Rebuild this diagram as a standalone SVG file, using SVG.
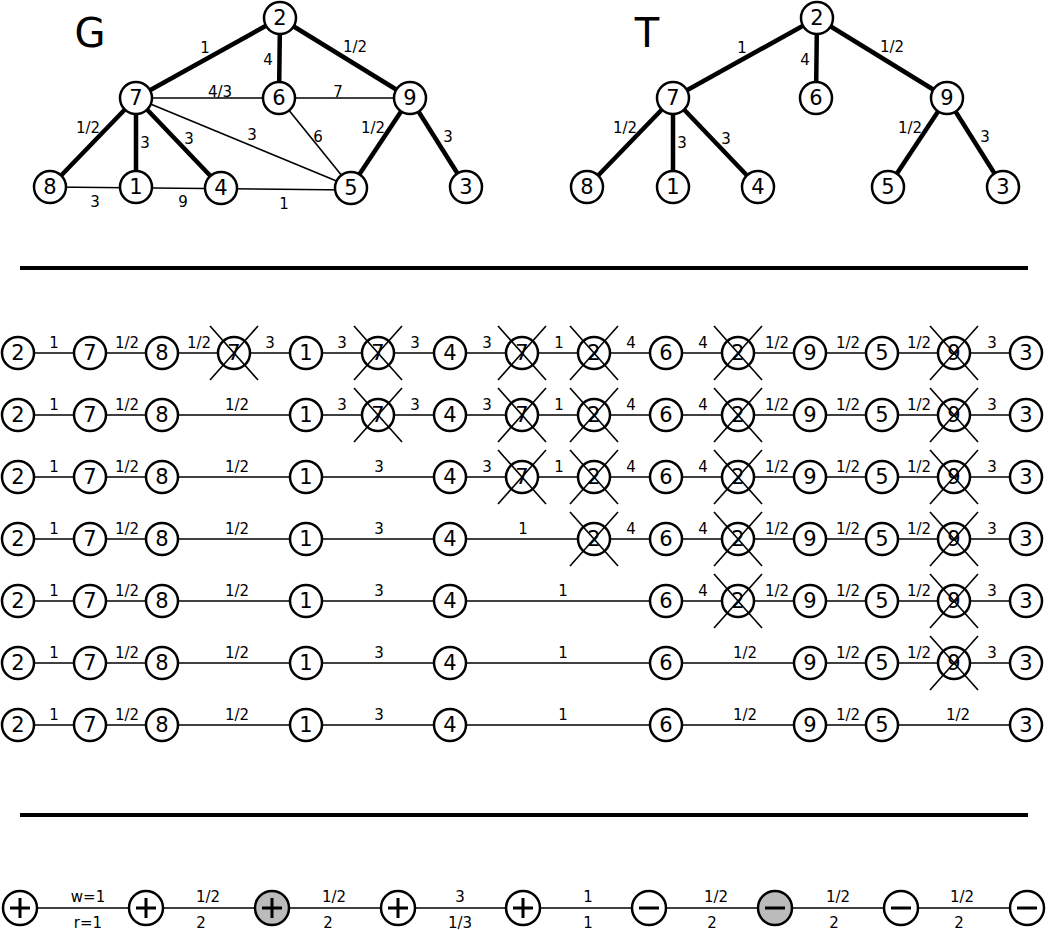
<svg xmlns="http://www.w3.org/2000/svg" width="1050" height="930" viewBox="0 0 1050 930">
<style>
text{font-family:"DejaVu Sans",sans-serif;fill:#000;text-anchor:middle}
.n circle{fill:#fff;stroke:#000;stroke-width:2.5}
.n text{font-size:21px;dominant-baseline:central}
.l{font-size:15px}
.thick{stroke:#000;stroke-width:4.5;fill:none}
.thin{stroke:#000;stroke-width:1.6;fill:none}
.x{stroke:#000;stroke-width:1.6}
.rule{stroke:#000;stroke-width:4}
.g circle{fill:#bbb}
.s{stroke:#000;stroke-width:3}
</style>
<defs>
<g id="X"><line class="x" x1="-24" y1="-27" x2="24" y2="27"/><line class="x" x1="24" y1="-27" x2="-24" y2="27"/></g>
<path id="plus" class="s" d="M-10 0H10M0-10V10"/>
<path id="minus" class="s" d="M-10 0H10"/>
</defs>
<text x="90" y="33" style="font-size:40px;dominant-baseline:central">G</text>
<text x="647" y="33" style="font-size:40px;dominant-baseline:central">T</text>
<g id="connectors-G">
<line class="thick" x1="280" y1="18" x2="136" y2="98"/>
<line class="thick" x1="280" y1="18" x2="279" y2="98"/>
<line class="thick" x1="280" y1="18" x2="410" y2="98"/>
<line class="thin" x1="136" y1="98" x2="410" y2="98"/>
<line class="thin" x1="136" y1="98" x2="351" y2="187"/>
<line class="thin" x1="279" y1="98" x2="351" y2="187"/>
<line class="thick" x1="136" y1="98" x2="50" y2="187"/>
<line class="thick" x1="136" y1="98" x2="136" y2="187"/>
<line class="thick" x1="136" y1="98" x2="221" y2="187"/>
<line class="thick" x1="410" y1="98" x2="351" y2="187"/>
<line class="thick" x1="410" y1="98" x2="466" y2="187"/>
<line class="thin" x1="50" y1="187" x2="351" y2="190"/>
</g>
<g class="l">
<text x="205" y="53">1</text><text x="268" y="65">4</text><text x="355" y="52">1/2</text>
<text x="220" y="97">4/3</text><text x="338" y="97">7</text><text x="88" y="133">1/2</text>
<text x="145" y="148">3</text><text x="189" y="144">3</text><text x="252" y="140">3</text>
<text x="318" y="142">6</text><text x="373" y="133">1/2</text><text x="448" y="142">3</text>
<text x="95" y="207">3</text><text x="183" y="207">9</text><text x="284" y="209">1</text>
</g>
<g id="G2" class="n"><circle cx="280" cy="18" r="16"/><text x="280" y="18">2</text></g>
<g id="G7" class="n"><circle cx="136" cy="98" r="16"/><text x="136" y="98">7</text></g>
<g id="G6" class="n"><circle cx="279" cy="98" r="16"/><text x="279" y="98">6</text></g>
<g id="G9" class="n"><circle cx="410" cy="98" r="16"/><text x="410" y="98">9</text></g>
<g id="G8" class="n"><circle cx="50" cy="187" r="16"/><text x="50" y="187">8</text></g>
<g id="G1" class="n"><circle cx="136" cy="187" r="16"/><text x="136" y="187">1</text></g>
<g id="G4" class="n"><circle cx="221" cy="188" r="16"/><text x="221" y="188">4</text></g>
<g id="G5" class="n"><circle cx="351" cy="188" r="16"/><text x="351" y="188">5</text></g>
<g id="G3" class="n"><circle cx="466" cy="187" r="16"/><text x="466" y="187">3</text></g>
<g transform="translate(537,0)">
<g id="connectors-T">
<line class="thick" x1="280" y1="18" x2="136" y2="98"/>
<line class="thick" x1="280" y1="18" x2="279" y2="98"/>
<line class="thick" x1="280" y1="18" x2="410" y2="98"/>
<line class="thick" x1="136" y1="98" x2="50" y2="187"/>
<line class="thick" x1="136" y1="98" x2="136" y2="187"/>
<line class="thick" x1="136" y1="98" x2="221" y2="187"/>
<line class="thick" x1="410" y1="98" x2="351" y2="187"/>
<line class="thick" x1="410" y1="98" x2="466" y2="187"/>
</g>
<g class="l">
<text x="205" y="53">1</text><text x="268" y="65">4</text><text x="355" y="52">1/2</text>
<text x="88" y="133">1/2</text><text x="145" y="148">3</text><text x="189" y="144">3</text>
<text x="373" y="133">1/2</text><text x="448" y="142">3</text>
</g>
<g id="T2" class="n"><circle cx="280" cy="18" r="16"/><text x="280" y="18">2</text></g>
<g id="T7" class="n"><circle cx="136" cy="98" r="16"/><text x="136" y="98">7</text></g>
<g id="T6" class="n"><circle cx="279" cy="98" r="16"/><text x="279" y="98">6</text></g>
<g id="T9" class="n"><circle cx="410" cy="98" r="16"/><text x="410" y="98">9</text></g>
<g id="T8" class="n"><circle cx="50" cy="187" r="16"/><text x="50" y="187">8</text></g>
<g id="T1" class="n"><circle cx="136" cy="187" r="16"/><text x="136" y="187">1</text></g>
<g id="T4" class="n"><circle cx="221" cy="187" r="16"/><text x="221" y="187">4</text></g>
<g id="T5" class="n"><circle cx="351" cy="187" r="16"/><text x="351" y="187">5</text></g>
<g id="T3" class="n"><circle cx="466" cy="187" r="16"/><text x="466" y="187">3</text></g>
</g>
<line class="rule" x1="20" y1="268" x2="1028" y2="268"/>
<line class="rule" x1="20" y1="815" x2="1028" y2="815"/>
<!-- rows -->
<g id="connectors-rows">
<line class="thin" x1="18" y1="353" x2="1026" y2="353"/>
<line class="thin" x1="18" y1="415" x2="1026" y2="415"/>
<line class="thin" x1="18" y1="477" x2="1026" y2="477"/>
<line class="thin" x1="18" y1="539" x2="1026" y2="539"/>
<line class="thin" x1="18" y1="601" x2="1026" y2="601"/>
<line class="thin" x1="18" y1="663" x2="1026" y2="663"/>
<line class="thin" x1="18" y1="725" x2="1026" y2="725"/>
</g>
<g class="l">
<!-- row1 -->
<text x="54" y="348">1</text><text x="127" y="348">1/2</text><text x="199" y="348">1/2</text><text x="270" y="348">3</text><text x="342" y="348">3</text><text x="415" y="348">3</text><text x="487" y="348">3</text><text x="559" y="348">1</text><text x="631" y="348">4</text><text x="703" y="348">4</text><text x="777" y="348">1/2</text><text x="848" y="348">1/2</text><text x="919" y="348">1/2</text><text x="992" y="348">3</text>
<!-- row2 -->
<text x="54" y="410">1</text><text x="127" y="410">1/2</text><text x="237" y="410">1/2</text><text x="342" y="410">3</text><text x="415" y="410">3</text><text x="487" y="410">3</text><text x="559" y="410">1</text><text x="631" y="410">4</text><text x="703" y="410">4</text><text x="777" y="410">1/2</text><text x="848" y="410">1/2</text><text x="919" y="410">1/2</text><text x="992" y="410">3</text>
<!-- row3 -->
<text x="54" y="472">1</text><text x="127" y="472">1/2</text><text x="237" y="472">1/2</text><text x="379" y="472">3</text><text x="487" y="472">3</text><text x="559" y="472">1</text><text x="631" y="472">4</text><text x="703" y="472">4</text><text x="777" y="472">1/2</text><text x="848" y="472">1/2</text><text x="919" y="472">1/2</text><text x="992" y="472">3</text>
<!-- row4 -->
<text x="54" y="534">1</text><text x="127" y="534">1/2</text><text x="237" y="534">1/2</text><text x="379" y="534">3</text><text x="523" y="534">1</text><text x="631" y="534">4</text><text x="703" y="534">4</text><text x="777" y="534">1/2</text><text x="848" y="534">1/2</text><text x="919" y="534">1/2</text><text x="992" y="534">3</text>
<!-- row5 -->
<text x="54" y="596">1</text><text x="127" y="596">1/2</text><text x="237" y="596">1/2</text><text x="379" y="596">3</text><text x="563" y="596">1</text><text x="703" y="596">4</text><text x="777" y="596">1/2</text><text x="848" y="596">1/2</text><text x="919" y="596">1/2</text><text x="992" y="596">3</text>
<!-- row6 -->
<text x="54" y="658">1</text><text x="127" y="658">1/2</text><text x="237" y="658">1/2</text><text x="379" y="658">3</text><text x="563" y="658">1</text><text x="745" y="658">1/2</text><text x="848" y="658">1/2</text><text x="919" y="658">1/2</text><text x="992" y="658">3</text>
<!-- row7 -->
<text x="54" y="720">1</text><text x="127" y="720">1/2</text><text x="237" y="720">1/2</text><text x="379" y="720">3</text><text x="563" y="720">1</text><text x="745" y="720">1/2</text><text x="848" y="720">1/2</text><text x="958" y="720">1/2</text>
</g>
<!-- row nodes -->
<g id="row1" class="n">
<circle cx="18" cy="353" r="16"/><text x="18" y="353">2</text>
<circle cx="90" cy="353" r="16"/><text x="90" y="353">7</text>
<circle cx="162" cy="353" r="16"/><text x="162" y="353">8</text>
<circle cx="234" cy="353" r="16"/><text x="234" y="353">7</text><use href="#X" x="234" y="353"/>
<circle cx="306" cy="353" r="16"/><text x="306" y="353">1</text>
<circle cx="378" cy="353" r="16"/><text x="378" y="353">7</text><use href="#X" x="378" y="353"/>
<circle cx="450" cy="353" r="16"/><text x="450" y="353">4</text>
<circle cx="522" cy="353" r="16"/><text x="522" y="353">7</text><use href="#X" x="522" y="353"/>
<circle cx="594" cy="353" r="16"/><text x="594" y="353">2</text><use href="#X" x="594" y="353"/>
<circle cx="666" cy="353" r="16"/><text x="666" y="353">6</text>
<circle cx="738" cy="353" r="16"/><text x="738" y="353">2</text><use href="#X" x="738" y="353"/>
<circle cx="810" cy="353" r="16"/><text x="810" y="353">9</text>
<circle cx="882" cy="353" r="16"/><text x="882" y="353">5</text>
<circle cx="954" cy="353" r="16"/><text x="954" y="353">9</text><use href="#X" x="954" y="353"/>
<circle cx="1026" cy="353" r="16"/><text x="1026" y="353">3</text>
</g>
<g id="row2" class="n">
<circle cx="18" cy="415" r="16"/><text x="18" y="415">2</text>
<circle cx="90" cy="415" r="16"/><text x="90" y="415">7</text>
<circle cx="162" cy="415" r="16"/><text x="162" y="415">8</text>
<circle cx="306" cy="415" r="16"/><text x="306" y="415">1</text>
<circle cx="378" cy="415" r="16"/><text x="378" y="415">7</text><use href="#X" x="378" y="415"/>
<circle cx="450" cy="415" r="16"/><text x="450" y="415">4</text>
<circle cx="522" cy="415" r="16"/><text x="522" y="415">7</text><use href="#X" x="522" y="415"/>
<circle cx="594" cy="415" r="16"/><text x="594" y="415">2</text><use href="#X" x="594" y="415"/>
<circle cx="666" cy="415" r="16"/><text x="666" y="415">6</text>
<circle cx="738" cy="415" r="16"/><text x="738" y="415">2</text><use href="#X" x="738" y="415"/>
<circle cx="810" cy="415" r="16"/><text x="810" y="415">9</text>
<circle cx="882" cy="415" r="16"/><text x="882" y="415">5</text>
<circle cx="954" cy="415" r="16"/><text x="954" y="415">9</text><use href="#X" x="954" y="415"/>
<circle cx="1026" cy="415" r="16"/><text x="1026" y="415">3</text>
</g>
<g id="row3" class="n">
<circle cx="18" cy="477" r="16"/><text x="18" y="477">2</text>
<circle cx="90" cy="477" r="16"/><text x="90" y="477">7</text>
<circle cx="162" cy="477" r="16"/><text x="162" y="477">8</text>
<circle cx="306" cy="477" r="16"/><text x="306" y="477">1</text>
<circle cx="450" cy="477" r="16"/><text x="450" y="477">4</text>
<circle cx="522" cy="477" r="16"/><text x="522" y="477">7</text><use href="#X" x="522" y="477"/>
<circle cx="594" cy="477" r="16"/><text x="594" y="477">2</text><use href="#X" x="594" y="477"/>
<circle cx="666" cy="477" r="16"/><text x="666" y="477">6</text>
<circle cx="738" cy="477" r="16"/><text x="738" y="477">2</text><use href="#X" x="738" y="477"/>
<circle cx="810" cy="477" r="16"/><text x="810" y="477">9</text>
<circle cx="882" cy="477" r="16"/><text x="882" y="477">5</text>
<circle cx="954" cy="477" r="16"/><text x="954" y="477">9</text><use href="#X" x="954" y="477"/>
<circle cx="1026" cy="477" r="16"/><text x="1026" y="477">3</text>
</g>
<g id="row4" class="n">
<circle cx="18" cy="539" r="16"/><text x="18" y="539">2</text>
<circle cx="90" cy="539" r="16"/><text x="90" y="539">7</text>
<circle cx="162" cy="539" r="16"/><text x="162" y="539">8</text>
<circle cx="306" cy="539" r="16"/><text x="306" y="539">1</text>
<circle cx="450" cy="539" r="16"/><text x="450" y="539">4</text>
<circle cx="594" cy="539" r="16"/><text x="594" y="539">2</text><use href="#X" x="594" y="539"/>
<circle cx="666" cy="539" r="16"/><text x="666" y="539">6</text>
<circle cx="738" cy="539" r="16"/><text x="738" y="539">2</text><use href="#X" x="738" y="539"/>
<circle cx="810" cy="539" r="16"/><text x="810" y="539">9</text>
<circle cx="882" cy="539" r="16"/><text x="882" y="539">5</text>
<circle cx="954" cy="539" r="16"/><text x="954" y="539">9</text><use href="#X" x="954" y="539"/>
<circle cx="1026" cy="539" r="16"/><text x="1026" y="539">3</text>
</g>
<g id="row5" class="n">
<circle cx="18" cy="601" r="16"/><text x="18" y="601">2</text>
<circle cx="90" cy="601" r="16"/><text x="90" y="601">7</text>
<circle cx="162" cy="601" r="16"/><text x="162" y="601">8</text>
<circle cx="306" cy="601" r="16"/><text x="306" y="601">1</text>
<circle cx="450" cy="601" r="16"/><text x="450" y="601">4</text>
<circle cx="666" cy="601" r="16"/><text x="666" y="601">6</text>
<circle cx="738" cy="601" r="16"/><text x="738" y="601">2</text><use href="#X" x="738" y="601"/>
<circle cx="810" cy="601" r="16"/><text x="810" y="601">9</text>
<circle cx="882" cy="601" r="16"/><text x="882" y="601">5</text>
<circle cx="954" cy="601" r="16"/><text x="954" y="601">9</text><use href="#X" x="954" y="601"/>
<circle cx="1026" cy="601" r="16"/><text x="1026" y="601">3</text>
</g>
<g id="row6" class="n">
<circle cx="18" cy="663" r="16"/><text x="18" y="663">2</text>
<circle cx="90" cy="663" r="16"/><text x="90" y="663">7</text>
<circle cx="162" cy="663" r="16"/><text x="162" y="663">8</text>
<circle cx="306" cy="663" r="16"/><text x="306" y="663">1</text>
<circle cx="450" cy="663" r="16"/><text x="450" y="663">4</text>
<circle cx="666" cy="663" r="16"/><text x="666" y="663">6</text>
<circle cx="810" cy="663" r="16"/><text x="810" y="663">9</text>
<circle cx="882" cy="663" r="16"/><text x="882" y="663">5</text>
<circle cx="954" cy="663" r="16"/><text x="954" y="663">9</text><use href="#X" x="954" y="663"/>
<circle cx="1026" cy="663" r="16"/><text x="1026" y="663">3</text>
</g>
<g id="row7" class="n">
<circle cx="18" cy="725" r="16"/><text x="18" y="725">2</text>
<circle cx="90" cy="725" r="16"/><text x="90" y="725">7</text>
<circle cx="162" cy="725" r="16"/><text x="162" y="725">8</text>
<circle cx="306" cy="725" r="16"/><text x="306" y="725">1</text>
<circle cx="450" cy="725" r="16"/><text x="450" y="725">4</text>
<circle cx="666" cy="725" r="16"/><text x="666" y="725">6</text>
<circle cx="810" cy="725" r="16"/><text x="810" y="725">9</text>
<circle cx="882" cy="725" r="16"/><text x="882" y="725">5</text>
<circle cx="1026" cy="725" r="16"/><text x="1026" y="725">3</text>
</g>
<!-- bottom -->
<g id="connectors-bottom"><line class="thin" x1="20" y1="908" x2="1027" y2="908"/></g>
<g class="l">
<text x="88" y="902">w=1</text><text x="88" y="928">r=1</text>
<text x="208" y="902">1/2</text><text x="201" y="928">2</text>
<text x="334" y="902">1/2</text><text x="328" y="928">2</text>
<text x="460" y="902">3</text><text x="460" y="928">1/3</text>
<text x="588" y="902">1</text><text x="588" y="928">1</text>
<text x="716" y="902">1/2</text><text x="712" y="928">2</text>
<text x="838" y="902">1/2</text><text x="834" y="928">2</text>
<text x="962" y="902">1/2</text><text x="959" y="928">2</text>
</g>
<g id="b1" class="n"><circle cx="20" cy="908" r="17"/><use href="#plus" x="20" y="908"/></g>
<g id="b2" class="n"><circle cx="146" cy="908" r="17"/><use href="#plus" x="146" y="908"/></g>
<g id="b3" class="n g"><circle cx="272" cy="908" r="17"/><use href="#plus" x="272" y="908"/></g>
<g id="b4" class="n"><circle cx="398" cy="908" r="17"/><use href="#plus" x="398" y="908"/></g>
<g id="b5" class="n"><circle cx="523" cy="908" r="17"/><use href="#plus" x="523" y="908"/></g>
<g id="b6" class="n"><circle cx="649" cy="908" r="17"/><use href="#minus" x="649" y="908"/></g>
<g id="b7" class="n g"><circle cx="775" cy="908" r="17"/><use href="#minus" x="775" y="908"/></g>
<g id="b8" class="n"><circle cx="901" cy="908" r="17"/><use href="#minus" x="901" y="908"/></g>
<g id="b9" class="n"><circle cx="1027" cy="908" r="17"/><use href="#minus" x="1027" y="908"/></g>
</svg>
